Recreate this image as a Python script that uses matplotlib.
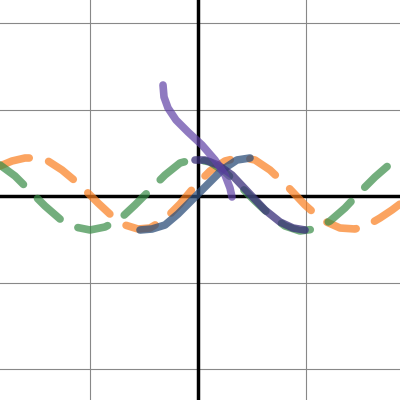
import matplotlib
matplotlib.use("Agg")
import matplotlib.pyplot as plt
import numpy as np

# pixel-read coordinates converted to graph units
X0, Y0, SX, SY = 198, 196, 108, 86.5
def U(px): return (np.array(px) - X0) / SX
def V(py): return (Y0 - np.array(py)) / SY

orange_px = [0, 12, 25, 35, 48, 62, 80, 98, 112, 125, 138, 150, 165, 180, 195, 210, 225, 237, 245, 255, 270, 288, 305, 322, 340, 355, 368, 380, 392, 400]
orange_py = [166, 161, 158, 158, 161, 170, 185, 203, 216, 225, 229, 228, 219, 204, 186, 171, 161, 158, 158, 160, 170, 187, 205, 220, 228, 229, 225, 218, 210, 204]
green_px = [0, 15, 30, 45, 60, 75, 90, 105, 120, 135, 150, 165, 180, 195, 210, 225, 240, 255, 270, 285, 300, 315, 330, 345, 360, 375, 390, 400]
green_py = [165, 176, 191, 206, 219, 227, 230, 227, 219, 205, 190, 175, 163, 159, 162, 172, 186, 201, 215, 226, 231, 229, 221, 208, 192, 177, 164, 158]
purple_px = [163, 164, 168, 176, 188, 202, 215, 225, 230, 232]
purple_py = [85, 97, 108, 120, 132, 145, 160, 175, 188, 197]
dark_px = [195, 205, 218, 232, 248, 265, 280, 293, 305]
dark_py = [160, 160, 165, 175, 192, 210, 222, 228, 230]
slate_px = [140, 152, 165, 178, 192, 207, 222, 237, 250]
slate_py = [230, 229, 225, 214, 200, 185, 170, 160, 158]

fig = plt.figure(figsize=(4, 4), dpi=100)
ax = fig.add_axes([0, 0, 1, 1])
ax.set_xlim(U(0), U(400))
ax.set_ylim(V(400), V(0))
for gx in [-1, 1]:
    ax.axvline(gx, color='#888888', lw=0.8, zorder=0)
for gy in [-2, -1, 1, 2]:
    ax.axhline(gy, color='#888888', lw=0.8, zorder=0)
ax.axvline(0, color='black', lw=2.5, zorder=1)
ax.axhline(0, color='black', lw=2.5, zorder=1)

ax.plot(U(orange_px), V(orange_py), color='#fa7e1e', alpha=0.7, lw=5.5,
        dashes=(4, 2.6), dash_capstyle='round', solid_capstyle='round', zorder=2)
ax.plot(U(green_px), V(green_py), color='#388c46', alpha=0.7, lw=5.5,
        dashes=(4, 2.6), dash_capstyle='round', zorder=3)
ax.plot(U(slate_px), V(slate_py), color='#2d4f7a', alpha=0.75, lw=5.5, solid_capstyle='round', zorder=4)
ax.plot(U(dark_px), V(dark_py), color='#3a2f7a', alpha=0.75, lw=5.5, solid_capstyle='round', zorder=5)
ax.plot(U(purple_px), V(purple_py), color='#6042a6', alpha=0.7, lw=5.5, solid_capstyle='round', zorder=6)
ax.set_xticks([]); ax.set_yticks([])
for s in ax.spines.values():
    s.set_visible(False)
fig.savefig('out.png')
